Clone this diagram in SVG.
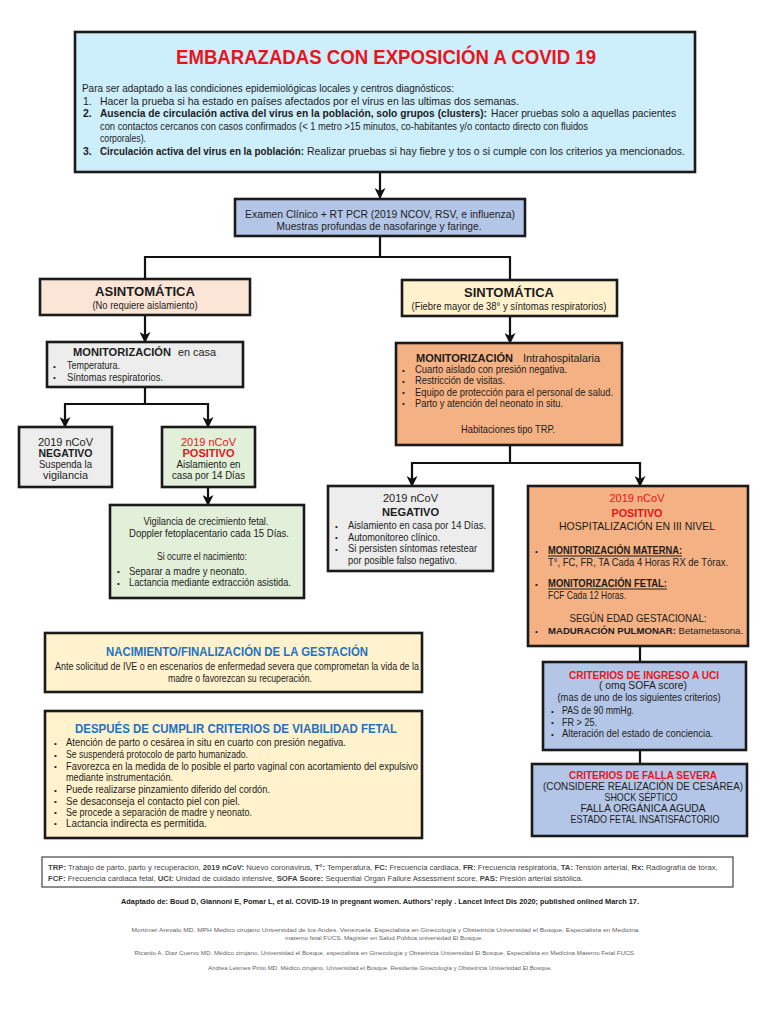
<svg xmlns="http://www.w3.org/2000/svg" width="768" height="1024" viewBox="0 0 768 1024">
<style>
text{font-family:"Liberation Sans",Arial,"Noto Sans",sans-serif;fill:#1c1c1c;font-size:10.5px}
.b{font-weight:bold}
.c{text-anchor:middle}
.r{fill:#e8141c}
.bl{fill:#2271c3}
.box{stroke:#1a1a1a;stroke-width:2.6}
.blue{fill:#b4c6e7}
.cyan{fill:#cdeefb}
.peach{fill:#fbe5d6}
.yel{fill:#fff2cc}
.gray{fill:#ededed}
.green{fill:#e2f0d9}
.orange{fill:#f4b183}
.con{fill:none;stroke:#111;stroke-width:2.2}
.arr{marker-end:url(#ah)}
.dot{font-size:8px}
.foot{font-size:7.7px;fill:#444}
.cred{font-size:5.6px;fill:#666}
</style>
<defs>
<marker id="ah" markerWidth="11" markerHeight="11" refX="10" refY="5.5" orient="auto" markerUnits="userSpaceOnUse">
<path d="M0,0 L11,5.5 L0,11 L3,5.5 z" fill="#111"/>
</marker>
</defs>
<rect width="768" height="1024" fill="#ffffff"/>

<g id="connectors">
<path class="con arr" d="M380,172 V198"/>
<path class="con" d="M380,236 V257 M145,257 H510 M145,256 V279 M510,256 V280"/>
<path class="con arr" d="M145,315 V342"/>
<path class="con" d="M145,387 V404 M65,404 H208"/>
<path class="con arr" d="M65,403 V427"/>
<path class="con arr" d="M208,403 V427"/>
<path class="con arr" d="M208,487 V505"/>
<path class="con arr" d="M510,316 V343"/>
<path class="con" d="M510,445 V463 M412,463 H640"/>
<path class="con arr" d="M412,462 V486"/>
<path class="con arr" d="M640,462 V486"/>
<path class="con" d="M640,646 V662"/>
<path class="con" d="M640,750 V764"/>
</g>

<g id="header">
<rect class="box cyan" x="75" y="32" width="620" height="140"/>
<text x="386" y="64" class="c b r" style="font-size:20px" textLength="420" lengthAdjust="spacingAndGlyphs">EMBARAZADAS CON EXPOSICIÓN A COVID 19</text>
<text x="82" y="92" textLength="372" lengthAdjust="spacingAndGlyphs">Para ser adaptado a las condiciones epidemiológicas locales y centros diagnósticos:</text>
<text x="83" y="104.5">1.</text>
<text x="100" y="104.5" textLength="419" lengthAdjust="spacingAndGlyphs">Hacer la prueba si ha estado en países afectados por el virus en las ultimas dos semanas.</text>
<text x="83" y="117" class="b">2.</text>
<text x="100" y="117" class="b" textLength="387" lengthAdjust="spacingAndGlyphs">Ausencia de circulación activa del virus en la población, solo grupos (clusters):</text>
<text x="491" y="117" textLength="185" lengthAdjust="spacingAndGlyphs">Hacer pruebas solo a aquellas pacientes</text>
<text x="100" y="130" textLength="488" lengthAdjust="spacingAndGlyphs">con contactos cercanos con casos confirmados (&lt; 1 metro &gt;15 minutos, co-habitantes y/o contacto directo con fluidos</text>
<text x="100" y="142" textLength="46" lengthAdjust="spacingAndGlyphs">corporales).</text>
<text x="83" y="155" class="b">3.</text>
<text x="100" y="155" class="b" textLength="204" lengthAdjust="spacingAndGlyphs">Circulación activa del virus en la población:</text>
<text x="307" y="155" textLength="378" lengthAdjust="spacingAndGlyphs">Realizar pruebas si hay fiebre y tos o si cumple con los criterios ya mencionados.</text>
</g>

<g id="examen">
<rect class="box blue" x="235" y="199" width="290" height="37"/>
<text x="380" y="218" class="c" style="font-size:11px" textLength="270" lengthAdjust="spacingAndGlyphs">Examen Clínico + RT PCR (2019 NCOV, RSV, e influenza)</text>
<text x="379" y="230" class="c" style="font-size:11px" textLength="205" lengthAdjust="spacingAndGlyphs">Muestras profundas de nasofaringe y faringe.</text>
</g>

<g id="asintomatica">
<rect class="box peach" x="40" y="279" width="210" height="36"/>
<text x="145" y="296" class="c b" style="font-size:13px" textLength="100" lengthAdjust="spacingAndGlyphs">ASINTOMÁTICA</text>
<text x="145" y="308.5" class="c" style="font-size:10px" textLength="105" lengthAdjust="spacingAndGlyphs">(No requiere aislamiento)</text>
</g>

<g id="sintomatica">
<rect class="box yel" x="402" y="280" width="215" height="36"/>
<text x="509" y="297" class="c b" style="font-size:13px" textLength="90" lengthAdjust="spacingAndGlyphs">SINTOMÁTICA</text>
<text x="509" y="309.5" class="c" style="font-size:10px" textLength="195" lengthAdjust="spacingAndGlyphs">(Fiebre mayor de 38° y síntomas respiratorios)</text>
</g>

<g id="monitorizacion-casa">
<rect class="box gray" x="47" y="342" width="196" height="45"/>
<text x="73" y="355.5" class="b" style="font-size:11.5px" textLength="98" lengthAdjust="spacingAndGlyphs">MONITORIZACIÓN</text>
<text x="178" y="355.5" style="font-size:11.5px" textLength="38" lengthAdjust="spacingAndGlyphs">en casa</text>
<text x="53" y="368.5" class="dot">•</text>
<text x="67" y="369" style="font-size:10px" textLength="53" lengthAdjust="spacingAndGlyphs">Temperatura.</text>
<text x="53" y="380" class="dot">•</text>
<text x="67" y="380.5" style="font-size:10px" textLength="96" lengthAdjust="spacingAndGlyphs">Síntomas respiratorios.</text>
</g>

<g id="negativo-asint">
<rect class="box gray" x="19" y="427" width="93" height="60"/>
<text x="65.5" y="446" class="c" style="font-size:11px">2019 nCoV</text>
<text x="65.5" y="457" class="c b" style="font-size:11px" textLength="54" lengthAdjust="spacingAndGlyphs">NEGATIVO</text>
<text x="65.5" y="468" class="c" style="font-size:10.5px" textLength="53" lengthAdjust="spacingAndGlyphs">Suspenda la</text>
<text x="65.5" y="479" class="c" style="font-size:10.5px" textLength="45" lengthAdjust="spacingAndGlyphs">vigilancia</text>
</g>

<g id="positivo-asint">
<rect class="box green" x="162" y="427" width="93" height="60"/>
<text x="208.5" y="446" class="c r" style="font-size:11px">2019 nCoV</text>
<text x="208.5" y="457" class="c b r" style="font-size:11px" textLength="52" lengthAdjust="spacingAndGlyphs">POSITIVO</text>
<text x="208.5" y="468" class="c" style="font-size:10.5px" textLength="64" lengthAdjust="spacingAndGlyphs">Aislamiento en</text>
<text x="208.5" y="479" class="c" style="font-size:10.5px" textLength="73" lengthAdjust="spacingAndGlyphs">casa por 14 Días</text>
</g>

<g id="vigilancia">
<rect class="box green" x="110" y="505" width="194" height="93"/>
<text x="206" y="525" class="c" textLength="125" lengthAdjust="spacingAndGlyphs">Vigilancia de crecimiento fetal.</text>
<text x="209" y="537" class="c" textLength="160" lengthAdjust="spacingAndGlyphs">Doppler fetoplacentario cada 15 Días.</text>
<text x="202" y="560" class="c" textLength="90" lengthAdjust="spacingAndGlyphs">Si ocurre el nacimiento:</text>
<text x="117" y="574" class="dot">•</text>
<text x="129" y="574.5" textLength="118" lengthAdjust="spacingAndGlyphs">Separar a madre y neonato.</text>
<text x="117" y="585.5" class="dot">•</text>
<text x="129" y="586" textLength="162" lengthAdjust="spacingAndGlyphs">Lactancia mediante extracción asistida.</text>
</g>

<g id="monitorizacion-intra">
<rect class="box orange" x="396" y="343" width="226" height="102"/>
<text x="416" y="361.5" class="b" style="font-size:11.5px" textLength="97" lengthAdjust="spacingAndGlyphs">MONITORIZACIÓN</text>
<text x="523" y="361.5" style="font-size:11.5px" textLength="77" lengthAdjust="spacingAndGlyphs">Intrahospitalaria</text>
<text x="402" y="372.5" class="dot">•</text>
<text x="415" y="373" textLength="152" lengthAdjust="spacingAndGlyphs">Cuarto aislado con presión negativa.</text>
<text x="402" y="383.5" class="dot">•</text>
<text x="415" y="384" textLength="90" lengthAdjust="spacingAndGlyphs">Restricción de visitas.</text>
<text x="402" y="395" class="dot">•</text>
<text x="415" y="395.5" textLength="198" lengthAdjust="spacingAndGlyphs">Equipo de protección para el personal de salud.</text>
<text x="402" y="406" class="dot">•</text>
<text x="415" y="406.5" textLength="148" lengthAdjust="spacingAndGlyphs">Parto y atención del neonato in situ.</text>
<text x="508" y="433" class="c" textLength="94" lengthAdjust="spacingAndGlyphs">Habitaciones tipo TRP.</text>
</g>

<g id="negativo-sint">
<rect class="box gray" x="328" y="486" width="165" height="85"/>
<text x="410.5" y="502" class="c" style="font-size:11px">2019 nCoV</text>
<text x="410.5" y="516" class="c b" style="font-size:11.5px" textLength="57" lengthAdjust="spacingAndGlyphs">NEGATIVO</text>
<text x="335" y="528.5" class="dot">•</text>
<text x="348" y="529" textLength="138" lengthAdjust="spacingAndGlyphs">Aislamiento en casa por 14 Días.</text>
<text x="335" y="540" class="dot">•</text>
<text x="348" y="540.5" textLength="92" lengthAdjust="spacingAndGlyphs">Automonitoreo clínico.</text>
<text x="335" y="551.5" class="dot">•</text>
<text x="348" y="552" textLength="129" lengthAdjust="spacingAndGlyphs">Si persisten síntomas retestear</text>
<text x="348" y="564" textLength="109" lengthAdjust="spacingAndGlyphs">por posible falso negativo.</text>
</g>

<g id="positivo-sint">
<rect class="box orange" x="528" y="486" width="220" height="160"/>
<text x="637" y="502" class="c r" style="font-size:11px">2019 nCoV</text>
<text x="637" y="517" class="c b r" style="font-size:11.5px" textLength="51" lengthAdjust="spacingAndGlyphs">POSITIVO</text>
<text x="637" y="529.5" class="c" textLength="156" lengthAdjust="spacingAndGlyphs">HOSPITALIZACIÓN EN III NIVEL</text>
<text x="535" y="553.5" class="dot">•</text>
<text x="548" y="554" class="b" textLength="134" lengthAdjust="spacingAndGlyphs">MONITORIZACIÓN MATERNA:</text>
<path d="M548,556 H682" stroke="#1c1c1c" stroke-width="1"/>
<text x="548" y="565.5" textLength="180" lengthAdjust="spacingAndGlyphs">T°, FC, FR, TA Cada 4 Horas RX de Tórax.</text>
<text x="535" y="586.5" class="dot">•</text>
<text x="548" y="587" class="b" textLength="119" lengthAdjust="spacingAndGlyphs">MONITORIZACIÓN FETAL:</text>
<path d="M548,589 H667" stroke="#1c1c1c" stroke-width="1"/>
<text x="548" y="599" textLength="78" lengthAdjust="spacingAndGlyphs">FCF Cada 12 Horas.</text>
<text x="638" y="622" class="c" textLength="137" lengthAdjust="spacingAndGlyphs">SEGÚN EDAD GESTACIONAL:</text>
<text x="535" y="633.5" class="dot">•</text>
<text x="548" y="634" style="font-size:9.6px"><tspan class="b">MADURACIÓN PULMONAR:</tspan> Betametasona.</text>
</g>

<g id="uci">
<rect class="box blue" x="543" y="662" width="203" height="88"/>
<text x="644" y="679" class="c b r" textLength="150" lengthAdjust="spacingAndGlyphs">CRITERIOS DE INGRESO A UCI</text>
<text x="643" y="689" class="c" textLength="88" lengthAdjust="spacingAndGlyphs">( omq SOFA score)</text>
<text x="639" y="700.5" class="c" textLength="163" lengthAdjust="spacingAndGlyphs">(mas de uno de los siguientes criterios)</text>
<text x="551" y="713.5" class="dot">•</text>
<text x="562" y="714" textLength="72" lengthAdjust="spacingAndGlyphs">PAS de 90 mmHg.</text>
<text x="551" y="725" class="dot">•</text>
<text x="562" y="725.5" textLength="35" lengthAdjust="spacingAndGlyphs">FR &gt; 25.</text>
<text x="551" y="736.5" class="dot">•</text>
<text x="562" y="737" textLength="151" lengthAdjust="spacingAndGlyphs">Alteración del estado de conciencia.</text>
</g>

<g id="falla">
<rect class="box blue" x="532" y="764" width="215" height="72"/>
<text x="643" y="779" class="c b r" textLength="148" lengthAdjust="spacingAndGlyphs">CRITERIOS DE FALLA SEVERA</text>
<text x="643" y="790" class="c" textLength="200" lengthAdjust="spacingAndGlyphs">(CONSIDERE REALIZACIÓN DE CESÁREA)</text>
<text x="641" y="801" class="c" textLength="73" lengthAdjust="spacingAndGlyphs">SHOCK SÉPTICO</text>
<text x="643" y="812" class="c" textLength="125" lengthAdjust="spacingAndGlyphs">FALLA ORGÁNICA AGUDA</text>
<text x="645" y="823" class="c" textLength="149" lengthAdjust="spacingAndGlyphs">ESTADO FETAL INSATISFACTORIO</text>
</g>

<g id="nacimiento">
<rect class="box yel" x="45" y="633" width="377" height="59"/>
<text x="237" y="655.5" class="c b bl" style="font-size:12px" textLength="262" lengthAdjust="spacingAndGlyphs">NACIMIENTO/FINALIZACIÓN DE LA GESTACIÓN</text>
<text x="237" y="669.5" class="c" textLength="364" lengthAdjust="spacingAndGlyphs">Ante solicitud de IVE o en escenarios de enfermedad severa que comprometan la vida de la</text>
<text x="240" y="682" class="c" textLength="144" lengthAdjust="spacingAndGlyphs">madre o favorezcan su recuperación.</text>
</g>

<g id="despues">
<rect class="box yel" x="45" y="711" width="377" height="127"/>
<text x="236" y="732.5" class="c b bl" style="font-size:12px" textLength="322" lengthAdjust="spacingAndGlyphs">DESPUÉS DE CUMPLIR CRITERIOS DE VIABILIDAD FETAL</text>
<text x="54" y="745.5" class="dot">•</text>
<text x="66" y="746" textLength="280" lengthAdjust="spacingAndGlyphs">Atención de parto o cesárea in situ en cuarto con presión negativa.</text>
<text x="54" y="757.5" class="dot">•</text>
<text x="66" y="758" textLength="182" lengthAdjust="spacingAndGlyphs">Se suspenderá protocolo de parto humanizado.</text>
<text x="54" y="769" class="dot">•</text>
<text x="66" y="769.5" textLength="352" lengthAdjust="spacingAndGlyphs">Favorezca en la medida de lo posible el parto vaginal con acortamiento del expulsivo</text>
<text x="66" y="781" textLength="107" lengthAdjust="spacingAndGlyphs">mediante instrumentación.</text>
<text x="54" y="792.5" class="dot">•</text>
<text x="66" y="793" textLength="204" lengthAdjust="spacingAndGlyphs">Puede realizarse pinzamiento diferido del cordón.</text>
<text x="54" y="804" class="dot">•</text>
<text x="66" y="804.5" textLength="174" lengthAdjust="spacingAndGlyphs">Se desaconseja el contacto piel con piel.</text>
<text x="54" y="815" class="dot">•</text>
<text x="66" y="815.5" textLength="186" lengthAdjust="spacingAndGlyphs">Se procede a separación de madre y neonato.</text>
<text x="54" y="826" class="dot">•</text>
<text x="66" y="826.5" textLength="141" lengthAdjust="spacingAndGlyphs">Lactancia indirecta es permitida.</text>
</g>

<g id="footer">
<rect x="42" y="857" width="691" height="30" fill="#fff" stroke="#444" stroke-width="1.2"/>
<text x="48" y="870" class="foot"><tspan class="b">TRP:</tspan> Trabajo de parto, parto y recuperación, <tspan class="b">2019 nCoV:</tspan> Nuevo coronavirus, <tspan class="b">T°:</tspan> Temperatura, <tspan class="b">FC:</tspan> Frecuencia cardiaca, <tspan class="b">FR:</tspan> Frecuencia respiratoria, <tspan class="b">TA:</tspan> Tensión arterial, <tspan class="b">Rx:</tspan> Radiografía de tórax,</text>
<text x="48" y="881" class="foot"><tspan class="b">FCF:</tspan> Frecuencia cardiaca fetal, <tspan class="b">UCI:</tspan> Unidad de cuidado intensive, <tspan class="b">SOFA Score:</tspan> Sequential Organ Failure Assessment score, <tspan class="b">PAS:</tspan> Presión arterial sistólica.</text>
<text x="380" y="904" class="c b" style="font-size:7px;fill:#222" textLength="518" lengthAdjust="spacingAndGlyphs">Adaptado de: Boud D, Giannoni E, Pomar L, et al. COVID-19 in pregnant women. Authors’ reply . Lancet Infect Dis 2020; published onlined March 17.</text>
<text x="385" y="932" class="c cred" textLength="507" lengthAdjust="spacingAndGlyphs">Mortimer Arevalo MD. MPH Medico cirujano Universidad de los Andes. Venezuela. Especialista en Ginecología y Obstetricia Universidad el Bosque. Especialista en Medicina</text>
<text x="384" y="940" class="c cred" textLength="198" lengthAdjust="spacingAndGlyphs">materno fetal FUCS. Magíster en Salud Pública universidad El Bosque.</text>
<text x="385" y="955" class="c cred" textLength="501" lengthAdjust="spacingAndGlyphs">Ricardo A. Diaz Cuervo MD. Médico cirujano, Universidad el Bosque, especialista en Ginecología y Obstetricia Universidad El Bosque, Especialista en Medicina Materno Fetal FUCS.</text>
<text x="380" y="970" class="c cred" textLength="344" lengthAdjust="spacingAndGlyphs">Andrea Lesmes Pinto MD. Médico cirujano, Universidad el Bosque. Residente Ginecología y Obstetricia Universidad El Bosque.</text>
</g>
</svg>
